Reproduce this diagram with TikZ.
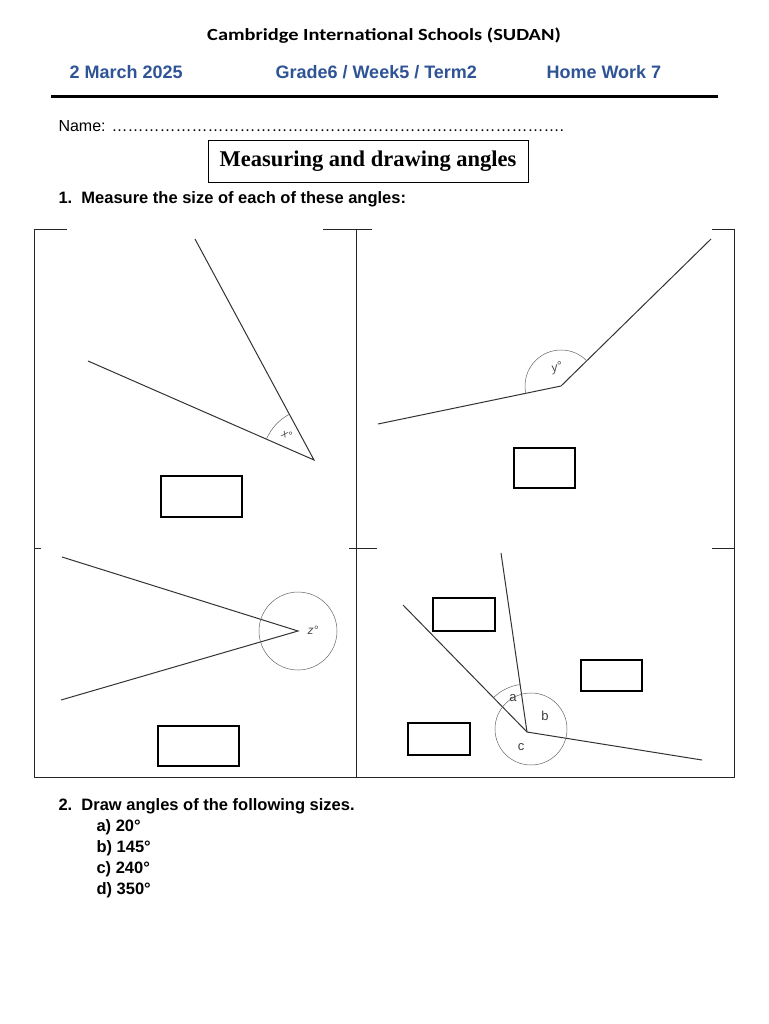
\documentclass[tikz,border=0pt]{standalone}
\usepackage{fontspec}
\setmainfont{Liberation Sans}
\newfontfamily\carl{Carlito}
\newfontfamily\serifb{Liberation Serif}
\begin{document}
\begin{tikzpicture}[x=1pt,y=-1pt,
  frame/.style={line width=0.9pt,black!85},
  ray/.style={line width=1pt,black!80},
  arcl/.style={line width=0.5pt,black!60},
  ans/.style={draw,line width=1.3pt,inner sep=0pt},
  lab/.style={font=\fontsize{12}{12}\selectfont\itshape,text=black!70,inner sep=0pt},
  hd/.style={font=\bfseries\fontsize{18}{18}\selectfont,text={rgb,255:red,47;green,84;blue,150},anchor=west},
  q/.style={font=\bfseries\fontsize{16.5}{16.5}\selectfont,anchor=west}]
\useasboundingbox (0,0) rectangle (768,1024);
\fill[white] (0,0) rectangle (768,1024);
% header
\node[font=\carl\bfseries\fontsize{17}{17}\selectfont,xscale=1.2] (school) at (384,36) {Cambridge International Schools (SUDAN)};
\node[hd] (date) at (66,72) {2 March 2025};
\node[hd] (grade) at (272,72) {Grade6 / Week5 / Term2};
\node[hd] (hw) at (543,72) {Home Work 7};
\draw[line width=3pt] (51,97) -- (718,97);
\node[font=\fontsize{16}{16}\selectfont,anchor=west] (name) at (55,126) {Name: \dots\dots\dots\dots\dots\dots\dots\dots\dots\dots\dots\dots\dots\dots\dots\dots\dots\dots\dots\dots\dots\dots\dots\dots\dots\dots\dots\dots.};
\node[draw,line width=0.6pt,minimum width=320pt,minimum height=42pt,font=\serifb\bfseries\fontsize{22.5}{22.5}\selectfont] (title) at (368,161) {Measuring and drawing angles};
\node[q] (q1) at (55,199) {1.\ \ Measure the size of each of these angles:};
% frame
\draw[frame] (67,229) -- (34,229) -- (34,777) -- (734,777) -- (734,229) -- (712,229);
\draw[frame] (323,229) -- (372,229);
\draw[frame] (356,229) -- (356,777);
\draw[frame] (34,548) -- (41,548);
\draw[frame] (349,548) -- (377,548);
\draw[frame] (712,548) -- (734,548);
% angle x
\coordinate (xv) at (314,460);
\coordinate (x1) at (195,239);
\coordinate (x2) at (88,361);
\draw[ray] (x1) -- (xv) -- (x2);
\draw[arcl] ([shift={(241.7:52)}]xv) arc[start angle=241.7,end angle=203.7,radius=52];
\node[lab,rotate=-20,font=\fontsize{11}{11}\selectfont\itshape] (xl) at (287,435) {x°};
% angle y
\coordinate (yv) at (561,386);
\coordinate (y1) at (378,424);
\coordinate (y2) at (711,239);
\draw[ray] (y1) -- (yv) -- (y2);
\draw[arcl] ([shift={(-44.4:36)}]yv) arc[start angle=-44.4,end angle=-191.7,radius=36];
\node[lab,rotate=15] (yl) at (557,368) {y°};
% angle z
\coordinate (zv) at (298,631);
\coordinate (z1) at (62,557);
\coordinate (z2) at (61,700);
\draw[ray] (z1) -- (zv) -- (z2);
\draw[arcl] ([shift={(197.4:39)}]zv) arc[start angle=197.4,end angle=-163.8,radius=39];
\node[lab] (zl) at (313,630) {z°};
% angle abc
\coordinate (v) at (527,732);
\coordinate (cc) at (531,729);
\coordinate (p1) at (403,605);
\coordinate (p2) at (501,553);
\coordinate (p3) at (702,760);
\draw[ray] (p1) -- (v);
\draw[ray] (p2) -- (v);
\draw[ray] (v) -- (p3);
\draw[arcl] ([shift={(225.7:48)}]v) arc[start angle=225.7,end angle=261.7,radius=48];
\draw[arcl] (cc) circle[radius=36];
\node[font=\fontsize{13}{13}\selectfont,text=black!75] (la) at (513,698) {a};
\node[font=\fontsize{13}{13}\selectfont,text=black!75] (lb) at (545,716) {b};
\node[font=\fontsize{13}{13}\selectfont,text=black!75] (lc) at (521,747) {c};
% answer boxes
\draw[ans] (161,476) rectangle (242,517);
\draw[ans] (514,448) rectangle (575,488);
\draw[ans] (158,726) rectangle (239,766);
\draw[ans] (433,598) rectangle (495,631);
\draw[ans] (581,660) rectangle (642,691);
\draw[ans] (408,723) rectangle (470,755);
% question 2
\node[q] (q2) at (55,806) {2.\ \ Draw angles of the following sizes.};
\node[q] (qa) at (93,827) {a) 20°};
\node[q] (qb) at (93,848) {b) 145°};
\node[q] (qc) at (93,869) {c) 240°};
\node[q] (qd) at (93,890) {d) 350°};
\end{tikzpicture}
\end{document}
